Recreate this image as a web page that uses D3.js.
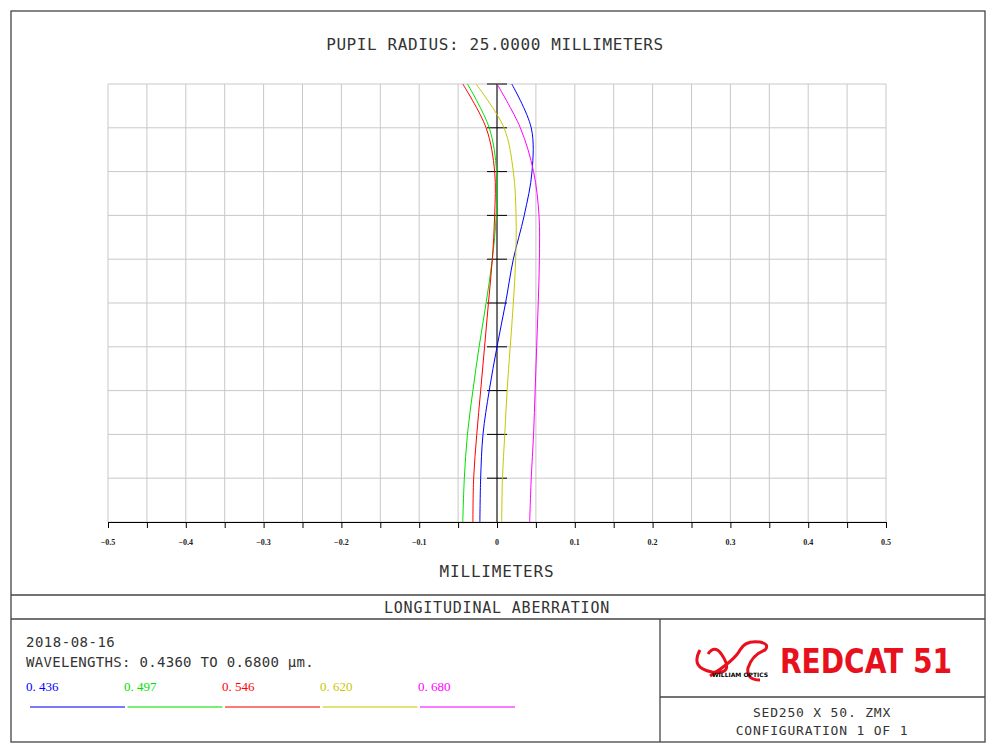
<!DOCTYPE html>
<html><head><meta charset="utf-8">
<script src="https://cdn.jsdelivr.net/npm/d3@7"></script>
<style>body{margin:0;background:#fff}svg text{font-family:"DejaVu Sans Mono",monospace}</style>
</head><body><svg id="c" width="995" height="753"></svg>
<script>
const pupil=[0,0.1,0.2,0.3,0.4,0.5,0.6,0.7,0.8,0.9,1.0];
const wavelengths=["0.436","0.497","0.546","0.620","0.680"];
const colors=["#0000ff","#00e000","#ff0000","#c8c800","#ff00ff"];
const s436=[-0.022,-0.021,-0.018,-0.010,0.000,0.011,0.021,0.035,0.045,0.044,0.019];
const s497=[-0.044,-0.042,-0.038,-0.031,-0.023,-0.014,-0.006,-0.001,-0.0005,-0.010,-0.038];
const s546=[-0.031,-0.030,-0.026,-0.021,-0.016,-0.011,-0.006,-0.003,-0.003,-0.014,-0.044];
const s620=[0.006,0.007,0.010,0.013,0.017,0.021,0.024,0.0245,0.021,0.009,-0.027];
const s680=[0.042,0.044,0.047,0.049,0.051,0.053,0.0545,0.054,0.047,0.030,0.000];
const series=[s436,s497,s546,s620,s680];
const xTicks=[-0.5,-0.4,-0.3,-0.2,-0.1,0,0.1,0.2,0.3,0.4,0.5];

const svg=d3.select("#c");
const x=d3.scaleLinear().domain([-0.5,0.5]).range([108,886]);
const y=d3.scaleLinear().domain([0,1]).range([522,84]);
const g=svg.append("g");
d3.range(-0.5,0.5001,0.05).forEach(v=>g.append("line").attr("x1",x(v)).attr("x2",x(v)).attr("y1",y(0)).attr("y2",y(1)).attr("stroke","#c8c8c8").attr("stroke-width",1));
pupil.forEach(v=>g.append("line").attr("x1",x(-0.5)).attr("x2",x(0.5)).attr("y1",y(v)).attr("y2",y(v)).attr("stroke","#c8c8c8").attr("stroke-width",1));
const ax=d3.axisBottom(x).tickValues(d3.range(-0.5,0.5001,0.05)).tickSize(6).tickFormat("");
svg.append("g").attr("transform",`translate(0,${y(0)})`).call(ax).call(a=>{a.select(".domain").attr("stroke","#000");a.selectAll("line").attr("stroke","#000");});
svg.append("g").selectAll("text").data(xTicks).join("text").attr("x",d=>x(d)).attr("y",545).attr("text-anchor","middle").attr("fill","#222")
 .style("font-family","Liberation Serif,serif").style("font-weight","bold").attr("font-size",8).text(d=>d===0?"0":d3.format(".1f")(d));
svg.append("line").attr("x1",x(0)).attr("x2",x(0)).attr("y1",y(0)).attr("y2",y(1)).attr("stroke","#000");
pupil.slice(1).forEach(v=>svg.append("line").attr("x1",x(0)-10).attr("x2",x(0)+10).attr("y1",y(v)).attr("y2",y(v)).attr("stroke","#000"));
const line=d3.line().x(d=>x(d[0])).y(d=>y(d[1])).curve(d3.curveCatmullRom);
series.forEach((s,i)=>svg.append("path").attr("d",line(s.map((v,j)=>[v,pupil[j]]))).attr("fill","none").attr("stroke",colors[i]).attr("stroke-width",1));
const L=(x1,y1,x2,y2)=>svg.append("line").attr("x1",x1).attr("y1",y1).attr("x2",x2).attr("y2",y2).attr("stroke","#444").attr("stroke-width",1.3);
svg.append("rect").attr("x",11).attr("y",11).attr("width",974).attr("height",731).attr("fill","none").attr("stroke","#444").attr("stroke-width",1.3);
L(11,595,985,595);L(11,619,985,619);L(660,619,660,742);L(660,697,985,697);
const T=(t,xx,yy,sz,anchor,ls)=>svg.append("text").attr("x",xx).attr("y",yy).attr("font-size",sz).attr("text-anchor",anchor||"start").attr("fill","#333").style("letter-spacing",(ls||0)+"px").text(t);
T("PUPIL RADIUS: 25.0000 MILLIMETERS",495,50,16,"middle",0.6);
T("MILLIMETERS",497,577,16,"middle",0.8);
T("LONGITUDINAL ABERRATION",497,613,15,"middle",0.8);
T("2018-08-16",26,647,14,"start",0.5);
T("WAVELENGTHS: 0.4360 TO 0.6800 µm.",26,667,14,"start",0.3);
T("SED250 X 50. ZMX",822,717,13,"middle",0.8);
T("CONFIGURATION 1 OF 1",822,735,13,"middle",0.8);
wavelengths.forEach((w,i)=>{
 svg.append("text").attr("x",26+i*98).attr("y",691).attr("fill",colors[i]).attr("font-size",13).style("font-family","Liberation Serif,serif").text(w.replace(".",". "));
 svg.append("line").attr("x1",30+i*97.5).attr("x2",125+i*97.5).attr("y1",707).attr("y2",707).attr("stroke",colors[i]).attr("stroke-opacity",0.7).attr("stroke-width",1.5);
});
const lg=svg.append("g").attr("fill","none").attr("stroke","#e8101c").attr("stroke-width",3);
lg.append("path").attr("d","M700,650 Q690,668 712,672 Q735,675 722,655 Q715,644 708,654 M710,676 Q735,660 740,650 Q745,640 760,642 Q770,644 765,650 Q752,655 748,668 Q746,680 760,680");
svg.append("text").attr("x",712).attr("y",677).attr("font-size",6).attr("fill","#000").style("font-weight","bold").style("font-family","DejaVu Sans").text("WILLIAM OPTICS");
svg.append("text").attr("x",780).attr("y",673).attr("font-size",34).attr("fill","#e8101c").style("font-weight","bold").style("font-family","DejaVu Sans Condensed,DejaVu Sans").attr("textLength",172).attr("lengthAdjust","spacingAndGlyphs").text("REDCAT 51");
</script></body></html>
